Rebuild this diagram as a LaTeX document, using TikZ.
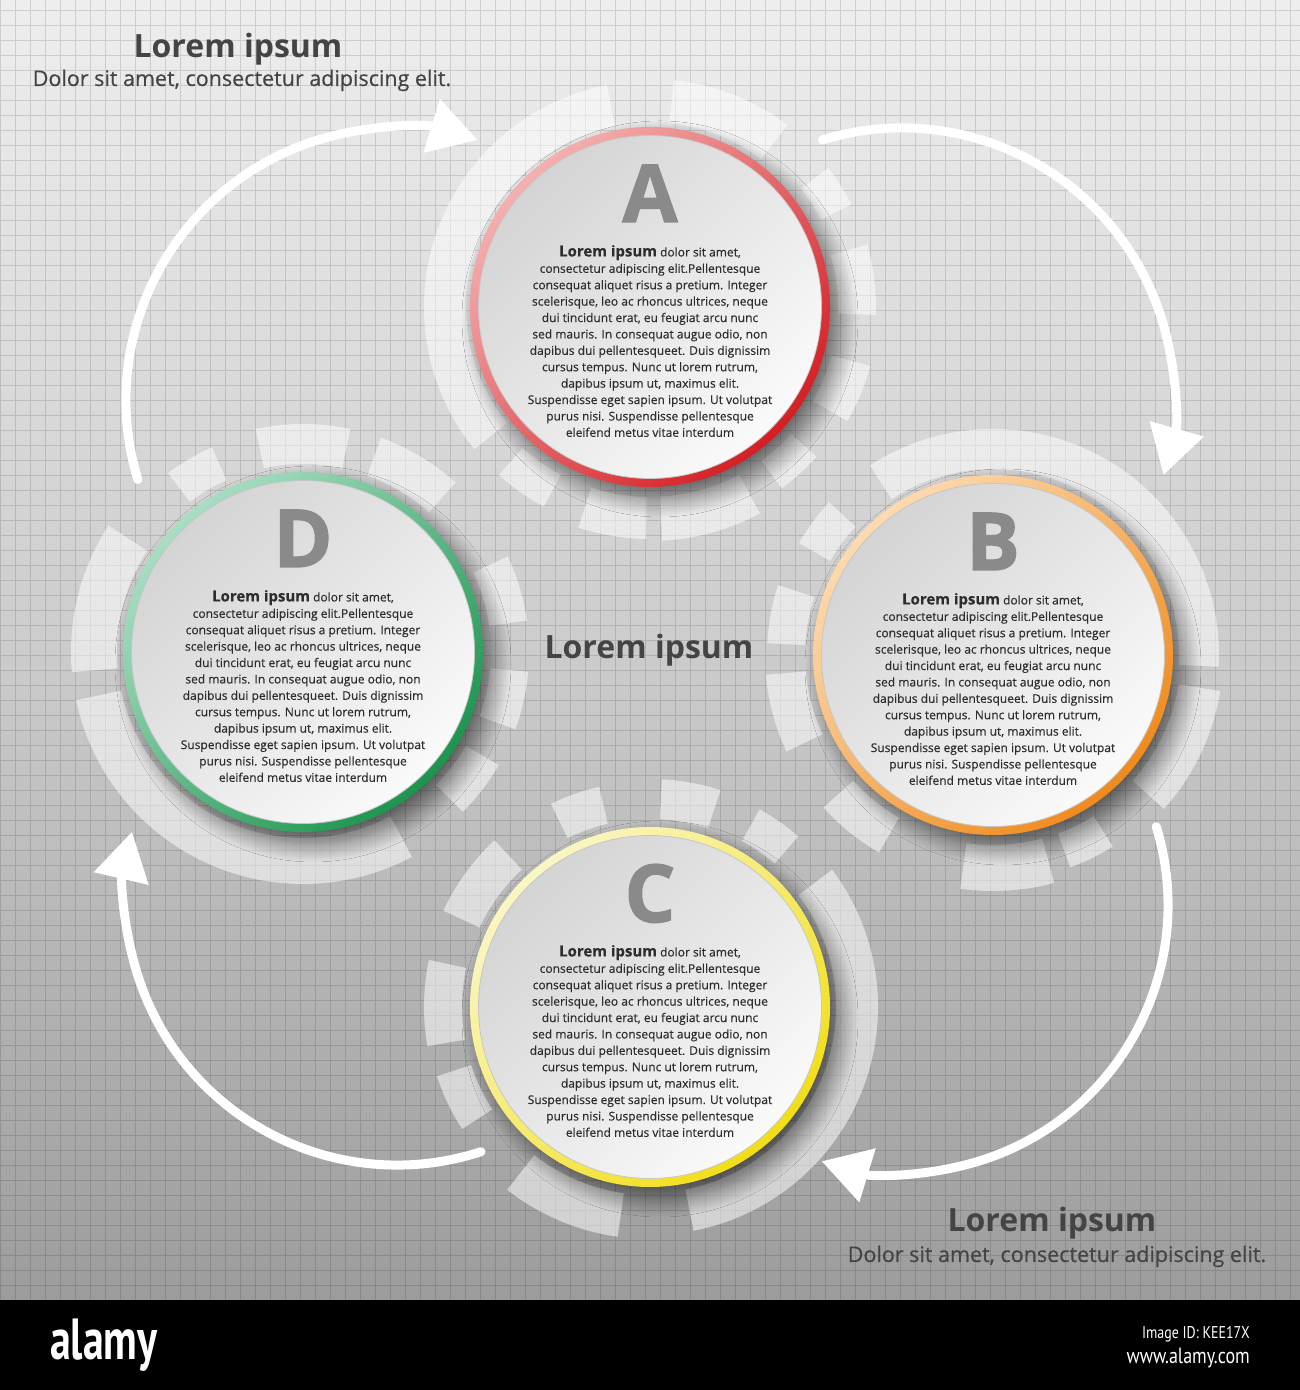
\documentclass[tikz,border=0pt]{standalone}
\usepackage{fontspec}
\setmainfont{Open Sans}
\newfontfamily\semifont{Open Sans}[FakeBold=0.35]
\newfontfamily\heavyfont{Open Sans}[FakeBold=1.6]
\newfontfamily\logofont{PT Sans}
\usepackage{xcolor}
\usepackage{tikz}
\usetikzlibrary{positioning, calc, arrows.meta, shadows.blur}
\definecolor{bgtop}{RGB}{238,238,238}
\definecolor{bgmid}{RGB}{204,204,204}
\definecolor{bgbot}{RGB}{156,156,156}
\definecolor{inkgray}{RGB}{68,68,68}
\definecolor{textgray}{RGB}{45,45,45}
\definecolor{lettergray}{RGB}{138,138,138}
\definecolor{facegray}{RGB}{212,212,212}
\definecolor{facewhite}{RGB}{250,250,250}
\definecolor{redlight}{RGB}{244,176,176}
\definecolor{reddark}{RGB}{212,30,36}
\definecolor{orangelight}{RGB}{252,218,176}
\definecolor{orangedark}{RGB}{240,138,28}
\definecolor{yellowlight}{RGB}{250,246,196}
\definecolor{yellowdark}{RGB}{242,222,20}
\definecolor{greenlight}{RGB}{168,222,196}
\definecolor{greendark}{RGB}{28,148,78}

\newcommand{\loremtext}{{\bfseries\fontsize{15}{16}\selectfont Lorem ipsum} dolor sit amet,\\consectetur adipiscing elit.Pellentesque\\consequat aliquet risus a pretium. Integer\\scelerisque, leo ac rhoncus ultrices, neque\\dui tincidunt erat, eu feugiat arcu nunc\\sed mauris. In consequat augue odio, non\\dapibus dui pellentesqueet. Duis dignissim\\cursus tempus. Nunc ut lorem rutrum,\\dapibus ipsum ut, maximus elit.\\Suspendisse eget sapien ipsum. Ut volutpat\\purus nisi. Suspendisse pellentesque\\eleifend metus vitae interdum}

\begin{document}
\begin{tikzpicture}[x=1pt, y=1pt]
		\tikzstyle{gearteeth}=[fill=white, fill opacity=0.52]
		\tikzstyle{ringnode}=[circle, minimum size=360pt, inner sep=0pt, blur shadow={shadow xshift=10pt, shadow yshift=-12pt, shadow blur radius=18pt, shadow blur steps=16, shadow opacity=55}]
		\tikzstyle{facenode}=[circle, minimum size=343pt, inner sep=0pt, draw=gray!45, line width=0.8pt, top color=facegray, bottom color=facewhite, shading angle=45]
		\tikzstyle{bigletter}=[font=\heavyfont\bfseries\fontsize{80}{80}\selectfont, text=lettergray, inner sep=0pt, anchor=base]
		\tikzstyle{bodytext}=[font=\semifont\fontsize{12}{16.4}\selectfont, text=textgray, align=center, inner sep=0pt]
		\tikzstyle{headline}=[font=\bfseries\fontsize{32}{32}\selectfont, text=inkgray, inner sep=0pt, anchor=base]
		\tikzstyle{subline}=[font=\semifont\fontsize{21.5}{21.5}\selectfont, text=inkgray, inner sep=0pt, anchor=base]
		\tikzstyle{flow}=[draw=white, line width=9pt, line cap=round, -{Triangle[width=54pt, length=48pt]}]
		\tikzstyle{gridline}=[draw=black, opacity=0.13, line width=0.7pt]
		
		\useasboundingbox (0,0) rectangle (1300,1390);
		%% background and grid
		\shade[top color=bgtop, bottom color=bgbot, middle color=bgmid] (0,90) rectangle (1300,1390);
		\draw[gridline, step=15pt] (0,90) grid (1300,1390);
		
		\coordinate (cA) at (650,1083);
		\coordinate (cB) at (993,735);
		\coordinate (cC) at (650,383);
		\coordinate (cD) at (303,738);
		
		%% gear teeth
		\begin{scope}[shift={(cA)}]
		\foreach \a/\b/\r/\R in {101/219/184/226, 53/84/185/228, 27/38/192/226, -2/16/188/226, -30/-15/188/228, -54/-42/190/224, -87/-62/190/234, -108/-91/190/232, 228/242/190/226}
		\fill[gearteeth] (\a:\r) arc[start angle=\a, end angle=\b, radius=\r] -- (\b:\R) arc[start angle=\b, end angle=\a, radius=\R] -- cycle;
		\end{scope}
		\begin{scope}[shift={(cB)}]
		\foreach \a/\b/\r/\R in {-3/123/186/226, 137/150/188/224, 162/177/188/226, 185/205/188/228, 222/240/188/228, 262/285/190/236, 290/302/190/226, 318/351/188/230}
		\fill[gearteeth] (\a:\r) arc[start angle=\a, end angle=\b, radius=\r] -- (\b:\R) arc[start angle=\b, end angle=\a, radius=\R] -- cycle;
		\end{scope}
		\begin{scope}[shift={(cC)}]
		\foreach \a/\b/\r/\R in {103/116/188/226, 72/87/188/228, 49/61/190/226, -79/37/186/228, 133/155/188/228, 168/190/188/226, 198/213/188/224, 232/262/188/232}
		\fill[gearteeth] (\a:\r) arc[start angle=\a, end angle=\b, radius=\r] -- (\b:\R) arc[start angle=\b, end angle=\a, radius=\R] -- cycle;
		\end{scope}
		\begin{scope}[shift={(cD)}]
		\foreach \a/\b/\r/\R in {114/127/188/224, 78/102/188/228, 48/70/188/228, 8/25/188/226, -20/-5/188/226, -45/-30/188/226, 147/185/186/232, 192/298/186/232}
		\fill[gearteeth] (\a:\r) arc[start angle=\a, end angle=\b, radius=\r] -- (\b:\R) arc[start angle=\b, end angle=\a, radius=\R] -- cycle;
		\end{scope}
		
		%% arrows
		\coordinate (fromD) at ($(398,990)+(197:272)$);
		\coordinate (fromA) at ($(902,990)+(107:272)$);
		\coordinate (fromB) at ($(900,485)+(17:268)$);
		\coordinate (fromC) at ($(397,497)+(-72:272)$);
		\draw[flow] (fromD) arc[start angle=197, end angle=73, radius=272];
		\draw[flow] (fromA) arc[start angle=107, end angle=-16, radius=272];
		\draw[flow] (fromB) arc[start angle=17, end angle=-107, radius=268];
		\draw[flow] (fromC) arc[start angle=-72, end angle=-193, radius=272];
		
		%% circles
		\node[ringnode, top color=redlight, bottom color=reddark, shading angle=45] (A) at (cA) {};
		\node[facenode] (faceA) at (A) {};
		\node[bigletter] (letA) at ($(A)+(0,85)$) {A};
		\node[bodytext] (txtA) at ($(A)+(0,-34)$) {\loremtext};
		
		\node[ringnode, top color=orangelight, bottom color=orangedark, shading angle=45] (B) at (cB) {};
		\node[facenode] (faceB) at (B) {};
		\node[bigletter] (letB) at ($(B)+(0,85)$) {B};
		\node[bodytext] (txtB) at ($(B)+(0,-34)$) {\loremtext};
		
		\node[ringnode, top color=yellowlight, bottom color=yellowdark, shading angle=45] (C) at (cC) {};
		\node[facenode] (faceC) at (C) {};
		\node[bigletter] (letC) at ($(C)+(0,85)$) {C};
		\node[bodytext] (txtC) at ($(C)+(0,-34)$) {\loremtext};
		
		\node[ringnode, top color=greenlight, bottom color=greendark, shading angle=45] (D) at (cD) {};
		\node[facenode] (faceD) at (D) {};
		\node[bigletter] (letD) at ($(D)+(0,85)$) {D};
		\node[bodytext] (txtD) at ($(D)+(0,-34)$) {\loremtext};
		
		%% headings
		\node[headline] (topTitle) at (238,1332) {Lorem ipsum};
		\node[subline] (topSub) at (242,1304) {Dolor sit amet, consectetur adipiscing elit.};
		\node[headline] (midTitle) at (649,731) {Lorem ipsum};
		\node[headline] (botTitle) at (1052,158) {Lorem ipsum};
		\node[subline] (botSub) at (1057,128) {Dolor sit amet, consectetur adipiscing elit.};
		
		%% bottom bar
		\fill[black] (0,0) rectangle (1300,90);
		\node[font=\logofont\bfseries\fontsize{58}{58}\selectfont, text=white, anchor=base west, xscale=0.72, inner sep=0pt] (logo) at (50,30) {alamy};
		\node[font=\logofont\fontsize{17}{17}\selectfont, text=white, anchor=base east, xscale=0.82, inner sep=0pt] (imgid) at (1250,51) {Image ID: KEE17X};
		\node[font=\logofont\fontsize{22}{22}\selectfont, text=white, anchor=base east, xscale=0.82, inner sep=0pt] (site) at (1250,27) {www.alamy.com};
		
\end{tikzpicture}
\end{document}
